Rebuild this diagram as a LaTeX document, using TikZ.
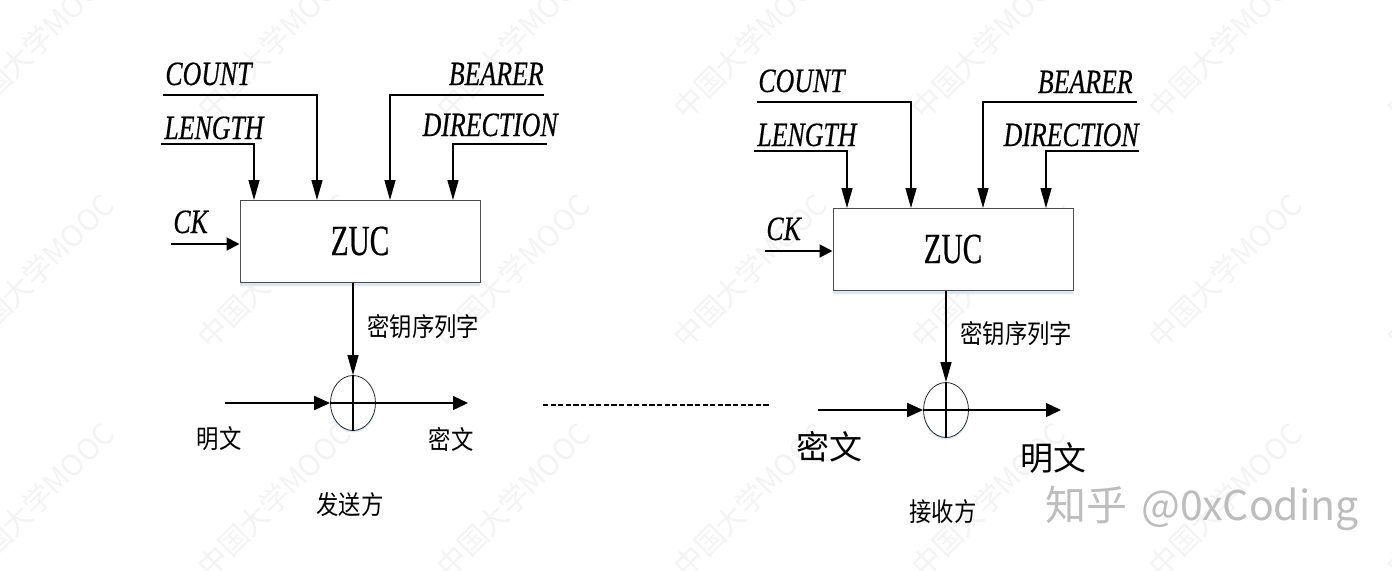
\documentclass[tikz,border=0pt]{standalone}
\usepackage{fontspec}
\setmainfont{Liberation Serif}
\newfontfamily\latinit[ItalicFont={Liberation Serif Italic},ItalicFeatures={FakeStretch=0.76,FakeBold=0.4}]{Liberation Serif}
\newfontfamily\latinup[FakeStretch=0.68,FakeBold=0.4]{Liberation Serif}
\newfontfamily\cjk{Noto Sans CJK SC}
\newfontfamily\cjkn[FakeStretch=0.86]{Noto Sans CJK SC}
\usetikzlibrary{arrows.meta,shapes.geometric}
\definecolor{wmgray}{HTML}{F3F3F3}
\definecolor{zhgray}{HTML}{BDBDBD}
\definecolor{shadowblue}{HTML}{DCE6F2}
\tikzset{
  x=0.5pt,y=-0.5pt,
  wire/.style={line width=0.65pt,black},
  thickwire/.style={line width=1pt,black},
  arrowwire/.style={wire,-{Triangle[length=10pt,width=5.5pt]}},
  ckarrow/.style={thickwire,-{Triangle[length=6.5pt,width=6.5pt]}},
  inarrow/.style={thickwire,-{Triangle[length=8pt,width=7pt]}},
  outarrow/.style={wire,-{Triangle[length=7.5pt,width=7pt]}},
  zucbox/.style={draw=black!70,line width=0.5pt,fill=white,minimum width=120pt,minimum height=41pt,inner sep=0pt,font=\latinup\fontsize{21.5}{21.5}\selectfont},
  xorc/.style={draw=black!85,line width=0.4pt,ellipse,minimum width=22.5pt,minimum height=27.5pt,inner sep=0pt},
  param/.style={inner sep=0pt,font=\latinit\itshape\fontsize{17}{17}\selectfont},
  cn/.style={inner sep=0pt,font=\cjkn\fontsize{13}{13}\selectfont},
  cnbig/.style={inner sep=0pt,font=\cjk\fontsize{16.5}{16.5}\selectfont},
  wm/.style={inner sep=0pt,rotate=45,text=wmgray,font=\cjk\fontsize{14.6}{14.6}\selectfont},
  soft/.style={fill=shadowblue,draw=none},
}
\begin{document}
\begin{tikzpicture}
\useasboundingbox (0,0) rectangle (1392,570);
% watermarks
\foreach \py in {42,271,500}
  \foreach \px in {37,274,513,750,988,1225,1463}
    \node[wm] at (\px,\py) {中国大学MOOC};
% shadows
\fill[soft] (240,282) rectangle (480,285.5);
\fill[soft] (833,290) rectangle (1073,293.5);
\fill[soft] (353,405) ellipse [x radius=22.5,y radius=27.5];
\fill[soft] (946,412) ellipse [x radius=22.5,y radius=27.5];
% left
\node[zucbox] (zl) at (360,241) {ZUC};
\node[xorc,fill=white] (xl) at (353,403) {};
\coordinate (cl) at (353,403);
\node[param,anchor=base west] (countl) at (165,85) {COUNT};
\node[param,anchor=base west] (lengthl) at (164,139) {LENGTH};
\node[param,anchor=base east] (bearerl) at (544,85) {BEARER};
\node[param,anchor=base east] (dirl) at (558,136) {DIRECTION};
\node[param,anchor=base west] (ckl) at (173,233) {CK};
\coordinate (a1) at (163,95); \coordinate (a2) at (317,95); \coordinate (a3) at (317,200);
\coordinate (b1) at (161,144); \coordinate (b2) at (254,144); \coordinate (b3) at (254,200);
\coordinate (c1) at (544,95); \coordinate (c2) at (390,95); \coordinate (c3) at (390,200);
\coordinate (d1) at (547,144); \coordinate (d2) at (453,144); \coordinate (d3) at (453,200);
\draw[arrowwire] (a1)--(a2)--(a3);
\draw[arrowwire] (b1)--(b2)--(b3);
\draw[arrowwire] (c1)--(c2)--(c3);
\draw[arrowwire] (d1)--(d2)--(d3);
\coordinate (ck0) at (171,244);
\draw[ckarrow] (ck0)--(ck0-|zl.west);
\draw[arrowwire] (zl.south -| cl) -- (xl.north);
\coordinate (ml) at (225,403); \coordinate (el) at (468,403);
\draw[inarrow] (ml)--(xl.west);
\draw[outarrow] (xl.east)--(el);
\draw[thickwire] (xl.west)--(xl.east);
\draw[wire] (xl.north)--(xl.south);
\node[cn,anchor=west] (kl) at (367,327) {密钥序列字};
\node[cn] (pl) at (219,439) {明文};
\node[cn] (sl) at (451,439) {密文};
\node[cn] (fl) at (350,505) {发送方};
% dashed
\coordinate (dash0) at (543,405); \coordinate (dash1) at (770,405);
\draw[line width=0.65pt,dash pattern=on 2.6pt off 1.2pt] (dash0)--(dash1);
% right
\node[zucbox] (zr) at (953,249) {ZUC};
\node[xorc,fill=white] (xr) at (946,410) {};
\coordinate (cr) at (946,410);
\node[param,anchor=base west] (countr) at (758,92) {COUNT};
\node[param,anchor=base west] (lengthr) at (757,146) {LENGTH};
\node[param,anchor=base east] (bearerr) at (1133,93) {BEARER};
\node[param,anchor=base east] (dirr) at (1139,146) {DIRECTION};
\node[param,anchor=base west] (ckr) at (766,240) {CK};
\coordinate (e1) at (757,102); \coordinate (e2) at (911,102); \coordinate (e3) at (911,208);
\coordinate (f1) at (754,151); \coordinate (f2) at (847,151); \coordinate (f3) at (847,208);
\coordinate (g1) at (1137,102); \coordinate (g2) at (983,102); \coordinate (g3) at (983,208);
\coordinate (h1) at (1139,151); \coordinate (h2) at (1046,151); \coordinate (h3) at (1046,208);
\draw[arrowwire] (e1)--(e2)--(e3);
\draw[arrowwire] (f1)--(f2)--(f3);
\draw[arrowwire] (g1)--(g2)--(g3);
\draw[arrowwire] (h1)--(h2)--(h3);
\coordinate (ck1) at (765,251);
\draw[ckarrow] (ck1)--(ck1-|zr.west);
\draw[arrowwire] (zr.south -| cr) -- (xr.north);
\coordinate (mr) at (818,410); \coordinate (er) at (1061,410);
\draw[inarrow] (mr)--(xr.west);
\draw[outarrow] (xr.east)--(er);
\draw[thickwire] (xr.west)--(xr.east);
\draw[wire] (xr.north)--(xr.south);
\node[cn,anchor=west] (kr) at (960,334) {密钥序列字};
\node[cnbig] (sr) at (829,447) {密文};
\node[cnbig] (pr) at (1053,458) {明文};
\node[cn] (jr) at (943,512) {接收方};
% zhihu mark
\node[inner sep=0pt,anchor=west,text=zhgray,font=\cjk\fontsize{20.5}{20.5}\selectfont] (zh) at (1045,508) {知乎\hspace{7pt}@0xCoding};
\end{tikzpicture}
\end{document}
